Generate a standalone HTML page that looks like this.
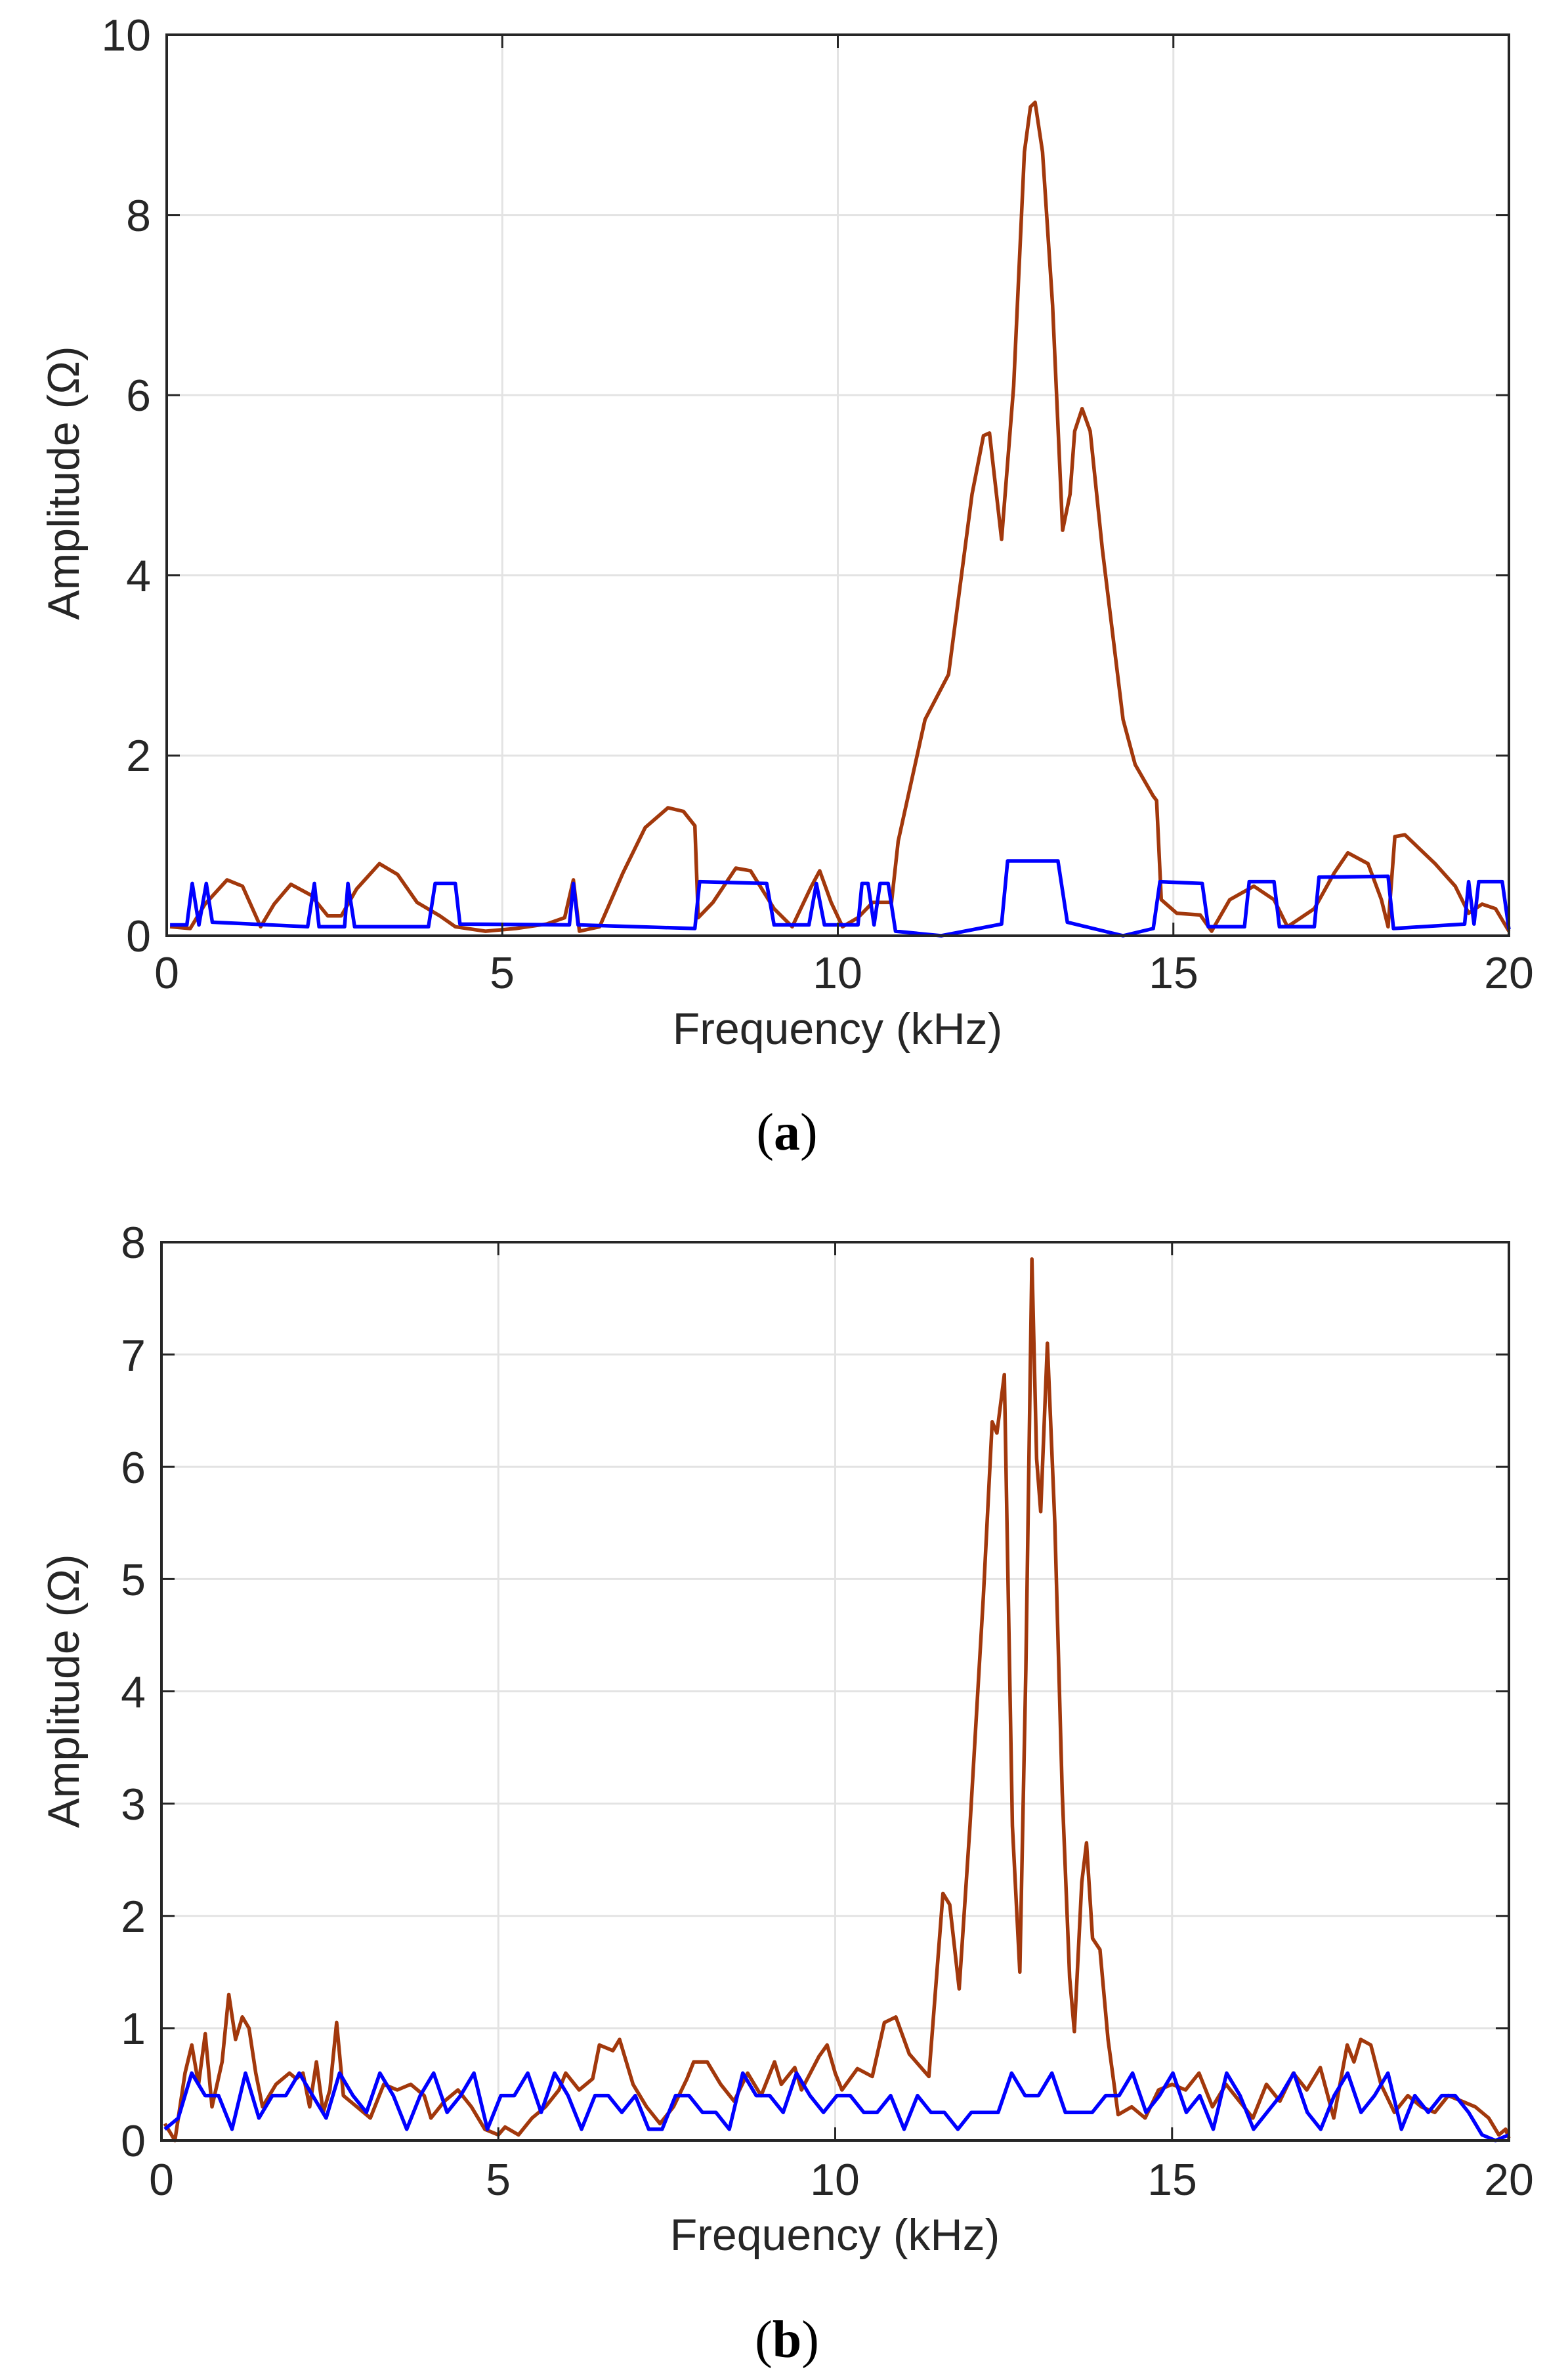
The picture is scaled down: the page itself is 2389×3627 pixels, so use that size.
<!DOCTYPE html>
<html><head><meta charset="utf-8"><style>
html,body{margin:0;padding:0;background:#fff}
svg{display:block}
text{font-family:"Liberation Sans",sans-serif;fill:#262626}
</style></head><body>
<svg id="s" width="2389" height="3627" viewBox="0 0 2389 3627" xmlns="http://www.w3.org/2000/svg">
<g id="ga"></g><g id="gb"></g>
<g font-size="68">
<text x="230" y="1450" text-anchor="end">0</text>
<text x="230" y="1175" text-anchor="end">2</text>
<text x="230" y="901" text-anchor="end">4</text>
<text x="230" y="626" text-anchor="end">6</text>
<text x="230" y="352" text-anchor="end">8</text>
<text x="230" y="77" text-anchor="end">10</text>
<text x="254" y="1506" text-anchor="middle">0</text>
<text x="765" y="1506" text-anchor="middle">5</text>
<text x="1276" y="1506" text-anchor="middle">10</text>
<text x="1788" y="1506" text-anchor="middle">15</text>
<text x="2299" y="1506" text-anchor="middle">20</text>
<text x="1276" y="1591" text-anchor="middle">Frequency (kHz)</text>
<text transform="translate(120,736) rotate(-90)" text-anchor="middle">Amplitude (Ω)</text>
</g>
<text x="1199" y="1752" text-anchor="middle" font-size="80" style="font-family:'Liberation Serif',serif;fill:#000">(<tspan font-weight="bold">a</tspan>)</text>
<g font-size="68">
<text x="222" y="3286" text-anchor="end">0</text>
<text x="222" y="3115" text-anchor="end">1</text>
<text x="222" y="2944" text-anchor="end">2</text>
<text x="222" y="2773" text-anchor="end">3</text>
<text x="222" y="2602" text-anchor="end">4</text>
<text x="222" y="2431" text-anchor="end">5</text>
<text x="222" y="2260" text-anchor="end">6</text>
<text x="222" y="2089" text-anchor="end">7</text>
<text x="222" y="1917" text-anchor="end">8</text>
<text x="246" y="3345" text-anchor="middle">0</text>
<text x="759" y="3345" text-anchor="middle">5</text>
<text x="1272" y="3345" text-anchor="middle">10</text>
<text x="1786" y="3345" text-anchor="middle">15</text>
<text x="2299" y="3345" text-anchor="middle">20</text>
<text x="1272" y="3429" text-anchor="middle">Frequency (kHz)</text>
<text transform="translate(120,2577) rotate(-90)" text-anchor="middle">Amplitude (Ω)</text>
</g>
<text x="1199" y="3592" text-anchor="middle" font-size="80" style="font-family:'Liberation Serif',serif;fill:#000">(<tspan font-weight="bold">b</tspan>)</text>
</svg>
<script>
var NS="http://www.w3.org/2000/svg";
function el(g,n,a){var e=document.createElementNS(NS,n);for(var k in a)e.setAttribute(k,a[k]);g.appendChild(e);return e;}
function plot(gid,L,R,T,B,ymax,ystep,series){
 var g=document.getElementById(gid);
 var X=function(f){return L+f/20*(R-L)},Y=function(v){return B-v/ymax*(B-T)};
 for(var f=5;f<20;f+=5)el(g,"line",{x1:X(f),x2:X(f),y1:T,y2:B,stroke:"#e3e3e3","stroke-width":3});
 for(var v=ystep;v<ymax;v+=ystep)el(g,"line",{x1:L,x2:R,y1:Y(v),y2:Y(v),stroke:"#e3e3e3","stroke-width":3});
 series.forEach(function(s){
  var d="";for(var i=0;i<s.p.length;i+=2)d+=(i?"L":"M")+X(s.p[i]).toFixed(1)+" "+Y(s.p[i+1]).toFixed(1);
  el(g,"path",{d:d,fill:"none",stroke:s.c,"stroke-width":s.w,"stroke-linejoin":"round"});
 });
 var t="";
 for(var f=0;f<=20;f+=5){t+="M"+X(f)+" "+B+"v-20M"+X(f)+" "+T+"v20";}
 for(var v=0;v<=ymax+1e-9;v+=ystep){t+="M"+L+" "+Y(v)+"h20M"+R+" "+Y(v)+"h-20";}
 el(g,"path",{d:t,stroke:"#262626","stroke-width":3,fill:"none"});
 el(g,"rect",{x:L,y:T,width:R-L,height:B-T,fill:"none",stroke:"#262626","stroke-width":4});
}
var brownA=[0.05,0.1,0.35,0.08,0.57,0.35,0.9,0.62,1.13,0.55,1.4,0.1,1.6,0.35,1.85,0.57,2.15,0.45,2.4,0.22,2.6,0.22,2.83,0.52,3.17,0.8,3.44,0.68,3.73,0.37,4.07,0.22,4.3,0.1,4.75,0.05,5.2,0.08,5.66,0.13,5.93,0.2,6.06,0.62,6.15,0.05,6.45,0.1,6.8,0.7,7.13,1.2,7.47,1.42,7.7,1.38,7.87,1.22,7.92,0.2,8.14,0.37,8.48,0.75,8.7,0.72,9.05,0.3,9.32,0.1,9.6,0.54,9.73,0.72,9.9,0.37,10.07,0.1,10.3,0.2,10.52,0.37,10.8,0.37,10.9,1.05,11.3,2.4,11.65,2.9,12.0,4.9,12.17,5.55,12.26,5.58,12.44,4.4,12.62,6.1,12.78,8.7,12.87,9.2,12.94,9.25,13.05,8.7,13.2,7.0,13.35,4.5,13.46,4.9,13.53,5.6,13.64,5.85,13.76,5.6,13.94,4.3,14.25,2.4,14.43,1.9,14.7,1.55,14.75,1.5,14.82,0.4,15.05,0.25,15.4,0.23,15.57,0.05,15.84,0.4,16.2,0.55,16.5,0.4,16.7,0.1,17.1,0.3,17.4,0.7,17.6,0.92,17.9,0.8,18.1,0.4,18.2,0.1,18.3,1.1,18.45,1.12,18.9,0.8,19.2,0.55,19.4,0.25,19.6,0.35,19.8,0.3,20,0.05];
var blueA=[0.05,0.12,0.3,0.12,0.38,0.58,0.48,0.12,0.59,0.58,0.68,0.15,2.1,0.1,2.2,0.58,2.27,0.1,2.65,0.1,2.7,0.58,2.8,0.1,3.9,0.1,4.0,0.58,4.3,0.58,4.37,0.13,6.0,0.12,6.06,0.58,6.13,0.12,7.87,0.08,7.94,0.6,8.94,0.58,9.05,0.12,9.57,0.12,9.68,0.58,9.8,0.12,10.3,0.12,10.36,0.58,10.45,0.58,10.54,0.12,10.63,0.58,10.75,0.58,10.86,0.05,11.54,0,12.44,0.13,12.53,0.83,13.28,0.83,13.42,0.15,14.25,0,14.7,0.08,14.8,0.6,15.43,0.58,15.52,0.1,16.06,0.1,16.13,0.6,16.5,0.6,16.58,0.1,17.1,0.1,17.17,0.65,18.2,0.66,18.28,0.08,19.34,0.13,19.4,0.6,19.48,0.13,19.55,0.6,19.9,0.6,20,0.07];
var brownB=[0.05,0.15,0.2,0.0,0.35,0.6,0.45,0.85,0.55,0.5,0.65,0.95,0.75,0.3,0.9,0.7,1.0,1.3,1.1,0.9,1.2,1.1,1.3,1.0,1.4,0.6,1.5,0.3,1.7,0.5,1.9,0.6,2.0,0.55,2.1,0.6,2.2,0.3,2.3,0.7,2.4,0.25,2.5,0.45,2.6,1.05,2.7,0.4,2.9,0.3,3.1,0.2,3.3,0.5,3.5,0.45,3.7,0.5,3.9,0.4,4.0,0.2,4.2,0.35,4.4,0.45,4.6,0.3,4.8,0.1,5.0,0.05,5.1,0.12,5.3,0.05,5.5,0.2,5.7,0.3,5.9,0.45,6.0,0.6,6.2,0.45,6.4,0.55,6.5,0.85,6.7,0.8,6.8,0.9,7.0,0.5,7.2,0.3,7.4,0.15,7.6,0.3,7.8,0.55,7.9,0.7,8.1,0.7,8.3,0.5,8.5,0.35,8.7,0.6,8.9,0.4,9.1,0.7,9.2,0.5,9.4,0.65,9.5,0.45,9.76,0.75,9.88,0.85,10.0,0.6,10.1,0.45,10.33,0.64,10.55,0.57,10.73,1.05,10.9,1.1,11.1,0.77,11.39,0.57,11.6,2.2,11.7,2.1,11.84,1.35,12.0,2.8,12.2,4.85,12.33,6.4,12.4,6.3,12.51,6.82,12.63,2.8,12.74,1.5,12.83,4.2,12.92,7.85,12.99,6.07,13.05,5.6,13.15,7.1,13.26,5.5,13.37,3.1,13.48,1.45,13.55,0.97,13.66,2.3,13.73,2.65,13.82,1.8,13.93,1.7,14.05,0.9,14.2,0.23,14.4,0.3,14.6,0.2,14.8,0.45,15.0,0.5,15.2,0.45,15.4,0.6,15.6,0.3,15.8,0.5,16.0,0.35,16.2,0.2,16.4,0.5,16.6,0.35,16.8,0.6,17.0,0.45,17.2,0.65,17.4,0.2,17.6,0.85,17.7,0.7,17.8,0.9,17.95,0.85,18.1,0.5,18.3,0.25,18.5,0.4,18.7,0.3,18.9,0.25,19.1,0.4,19.3,0.35,19.5,0.3,19.7,0.2,19.85,0.05,19.95,0.1,20,0.02];
var lv=[0.1,0.2,0.6,0.4,0.4,0.1,0.6,0.2,0.4,0.4,0.6,0.4,0.2,0.6,0.4,0.25,0.6,0.4,0.1,0.4,0.6,0.25,0.4,0.6,0.1,0.4,0.4,0.6,0.25,0.6,0.4,0.1,0.4,0.4,0.25,0.4,0.1,0.1,0.4,0.4,0.25,0.25,0.1,0.6,0.4,0.4,0.25,0.6,0.4,0.25,0.4,0.4,0.25,0.25,0.4,0.1,0.4,0.25,0.25,0.1,0.25,0.25,0.25,0.6,0.4,0.4,0.6,0.25,0.25,0.25,0.4,0.4,0.6,0.25,0.4,0.6,0.25,0.4,0.1,0.6,0.4,0.1,0.25,0.4,0.6,0.25,0.1,0.4,0.6,0.25,0.4,0.6,0.1,0.4,0.25,0.4,0.4,0.25,0.05,0.0,0.05];
var blueB=[];for(var i=0;i<lv.length;i++){blueB.push(0.05+i*19.95/(lv.length-1),lv[i]);}
plot("ga",254,2299,53,1426,10,2,[{p:brownA,c:"#A2380C",w:5.5},{p:blueA,c:"#0000FF",w:5.5}]);
plot("gb",246,2299,1893,3262,8,1,[{p:brownB,c:"#A2380C",w:5.5},{p:blueB,c:"#0000FF",w:5.5}]);
</script>
</body></html>
